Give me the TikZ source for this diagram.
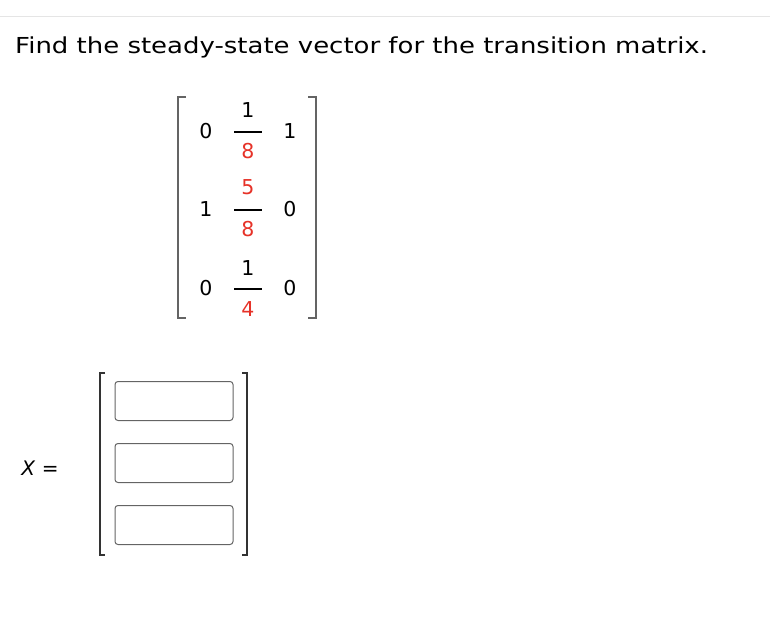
\documentclass[tikz,border=0pt]{standalone}
\usepackage{fontspec}
\setmainfont{DejaVu Sans}
\definecolor{mred}{RGB}{230,50,40}
\definecolor{brk}{RGB}{100,100,100}
\begin{document}
\begin{tikzpicture}[x=1pt,y=-1pt,
  ent/.style={inner sep=0pt,font=\fontsize{20.5}{20}\selectfont},
  den/.style={ent,text=mred},
  bkt/.style={draw=brk,line width=2.6pt},
  bkt2/.style={draw=black!80,line width=1.2pt},
  ansbox/.style={draw=brk,line width=1pt,rounded corners=3pt,minimum width=118pt,minimum height=39pt,inner sep=0pt}]
\useasboundingbox (0,0) rectangle (770,628);
\draw[black!10,line width=1pt] (0,17) -- (770,17);
\node[anchor=west,inner sep=0pt,font=\fontsize{22}{22}\selectfont,xscale=1.18] (title) at (15,47) {Find the steady-state vector for the transition matrix.};
% matrix brackets
\draw[bkt] (186,97) -- (178,97) -- (178,318) -- (186,318);
\draw[bkt] (308,97) -- (316,97) -- (316,318) -- (308,318);
% entries
\node[ent] (a11) at (206,131) {0};
\node[ent] (n12) at (248,110) {1};
\node[den] (d12) at (248,151) {8};
\draw[line width=1.3pt] (234,132) -- (262,132);
\node[ent] (a13) at (290,131) {1};
\node[ent] (a21) at (206,209) {1};
\node[den] (n22) at (248,187) {5};
\node[den] (d22) at (248,229) {8};
\draw[line width=1.3pt] (234,210) -- (262,210);
\node[ent] (a23) at (290,209) {0};
\node[ent] (a31) at (206,288) {0};
\node[ent] (n32) at (248,268) {1};
\node[den] (d32) at (248,309) {4};
\draw[line width=1.3pt] (234,289) -- (262,289);
\node[ent] (a33) at (290,288) {0};
% answer
\node[inner sep=0pt,font=\fontsize{20}{20}\selectfont] (xeq) at (40,468) {\textit{X} =};
\draw[bkt2] (105,373) -- (100,373) -- (100,555) -- (105,555);
\draw[bkt2] (242,373) -- (247,373) -- (247,555) -- (242,555);
\node[ansbox] (b1) at (174,401) {};
\node[ansbox] (b2) at (174,463) {};
\node[ansbox] (b3) at (174,525) {};
\end{tikzpicture}
\end{document}
